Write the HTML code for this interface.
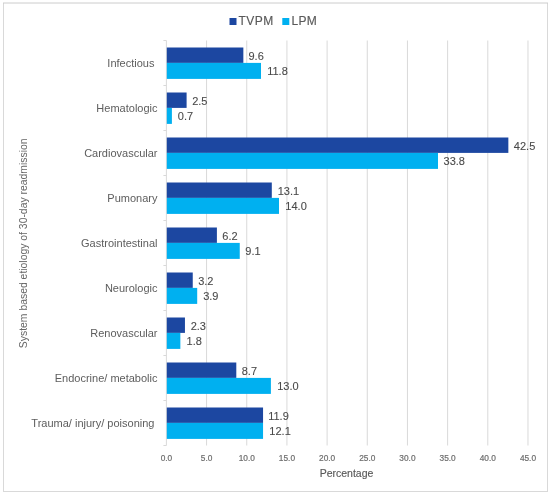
<!DOCTYPE html><html><head><meta charset="utf-8"><style>
html,body{margin:0;padding:0;background:#fff;width:550px;height:495px;overflow:hidden}
svg{display:block;will-change:transform}
text{font-family:"Liberation Sans",sans-serif;fill:#5d5d5d;stroke:#5d5d5d;stroke-width:0px}
.v{fill:#4a4a4a;stroke:#4a4a4a;stroke-width:0.1px}
.t{fill:#595959;stroke:#595959;stroke-width:0.15px}
</style></head><body>
<svg width="550" height="495" viewBox="0 0 550 495">
<rect x="0" y="0" width="550" height="495" fill="#fff"/>
<path d="M3.5 3V491.5M547.5 3V491.5M3 491.5H548" fill="none" stroke="#D9D9D9" stroke-width="1"/>
<path d="M3 3H548" fill="none" stroke="#CCCCCC" stroke-width="1"/>
<line x1="206.57" y1="40.50" x2="206.57" y2="445.50" stroke="#D9D9D9" stroke-width="1"/>
<line x1="246.75" y1="40.50" x2="246.75" y2="445.50" stroke="#D9D9D9" stroke-width="1"/>
<line x1="286.93" y1="40.50" x2="286.93" y2="445.50" stroke="#D9D9D9" stroke-width="1"/>
<line x1="327.10" y1="40.50" x2="327.10" y2="445.50" stroke="#D9D9D9" stroke-width="1"/>
<line x1="367.27" y1="40.50" x2="367.27" y2="445.50" stroke="#D9D9D9" stroke-width="1"/>
<line x1="407.45" y1="40.50" x2="407.45" y2="445.50" stroke="#D9D9D9" stroke-width="1"/>
<line x1="447.62" y1="40.50" x2="447.62" y2="445.50" stroke="#D9D9D9" stroke-width="1"/>
<line x1="487.80" y1="40.50" x2="487.80" y2="445.50" stroke="#D9D9D9" stroke-width="1"/>
<line x1="527.98" y1="40.50" x2="527.98" y2="445.50" stroke="#D9D9D9" stroke-width="1"/>
<line x1="166.40" y1="40.50" x2="166.40" y2="445.50" stroke="#D9D9D9" stroke-width="1"/>
<line x1="163.40" y1="40.50" x2="166.40" y2="40.50" stroke="#D9D9D9" stroke-width="1"/>
<line x1="163.40" y1="85.50" x2="166.40" y2="85.50" stroke="#D9D9D9" stroke-width="1"/>
<line x1="163.40" y1="130.50" x2="166.40" y2="130.50" stroke="#D9D9D9" stroke-width="1"/>
<line x1="163.40" y1="175.50" x2="166.40" y2="175.50" stroke="#D9D9D9" stroke-width="1"/>
<line x1="163.40" y1="220.50" x2="166.40" y2="220.50" stroke="#D9D9D9" stroke-width="1"/>
<line x1="163.40" y1="265.50" x2="166.40" y2="265.50" stroke="#D9D9D9" stroke-width="1"/>
<line x1="163.40" y1="310.50" x2="166.40" y2="310.50" stroke="#D9D9D9" stroke-width="1"/>
<line x1="163.40" y1="355.50" x2="166.40" y2="355.50" stroke="#D9D9D9" stroke-width="1"/>
<line x1="163.40" y1="400.50" x2="166.40" y2="400.50" stroke="#D9D9D9" stroke-width="1"/>
<line x1="163.40" y1="445.50" x2="166.40" y2="445.50" stroke="#D9D9D9" stroke-width="1"/>
<rect x="166.80" y="47.50" width="76.55" height="15.40" fill="#1C47A1"/>
<rect x="166.80" y="62.90" width="94.20" height="16.00" fill="#00B0F0"/>
<text class="v" x="248.48" y="59.90" font-size="11">9.6</text>
<text class="v" x="267.16" y="75.05" font-size="11">11.8</text>
<text x="157.5" y="67.10" font-size="11" text-anchor="end">Infectious&#160;</text>
<rect x="166.80" y="92.50" width="19.80" height="15.40" fill="#1C47A1"/>
<rect x="166.80" y="107.90" width="5.10" height="16.00" fill="#00B0F0"/>
<text class="v" x="192.15" y="104.90" font-size="11">2.5</text>
<text class="v" x="177.77" y="120.05" font-size="11">0.7</text>
<text x="157.5" y="112.10" font-size="11" text-anchor="end">Hematologic</text>
<rect x="166.80" y="137.50" width="341.55" height="15.40" fill="#1C47A1"/>
<rect x="166.80" y="152.90" width="271.20" height="16.00" fill="#00B0F0"/>
<text class="v" x="513.85" y="149.90" font-size="11">42.5</text>
<text class="v" x="443.58" y="165.05" font-size="11">33.8</text>
<text x="157.5" y="157.10" font-size="11" text-anchor="end">Cardiovascular</text>
<rect x="166.80" y="182.50" width="105.00" height="15.40" fill="#1C47A1"/>
<rect x="166.80" y="197.90" width="112.20" height="16.00" fill="#00B0F0"/>
<text class="v" x="277.66" y="194.90" font-size="11">13.1</text>
<text class="v" x="285.36" y="210.05" font-size="11">14.0</text>
<text x="157.5" y="202.10" font-size="11" text-anchor="end">Pumonary</text>
<rect x="166.80" y="227.50" width="50.10" height="15.40" fill="#1C47A1"/>
<rect x="166.80" y="242.90" width="72.95" height="16.00" fill="#00B0F0"/>
<text class="v" x="222.34" y="239.90" font-size="11">6.2</text>
<text class="v" x="245.28" y="255.05" font-size="11">9.1</text>
<text x="157.5" y="247.10" font-size="11" text-anchor="end">Gastrointestinal</text>
<rect x="166.80" y="272.50" width="25.95" height="15.40" fill="#1C47A1"/>
<rect x="166.80" y="287.90" width="30.40" height="16.00" fill="#00B0F0"/>
<text class="v" x="198.18" y="284.90" font-size="11">3.2</text>
<text class="v" x="203.18" y="300.05" font-size="11">3.9</text>
<text x="157.5" y="292.10" font-size="11" text-anchor="end">Neurologic</text>
<rect x="166.80" y="317.50" width="18.15" height="15.40" fill="#1C47A1"/>
<rect x="166.80" y="332.90" width="13.55" height="16.00" fill="#00B0F0"/>
<text class="v" x="190.65" y="329.90" font-size="11">2.3</text>
<text class="v" x="186.56" y="345.05" font-size="11">1.8</text>
<text x="157.5" y="337.10" font-size="11" text-anchor="end">Renovascular</text>
<rect x="166.80" y="362.50" width="69.50" height="15.40" fill="#1C47A1"/>
<rect x="166.80" y="377.90" width="104.10" height="16.00" fill="#00B0F0"/>
<text class="v" x="241.72" y="374.90" font-size="11">8.7</text>
<text class="v" x="277.26" y="390.05" font-size="11">13.0</text>
<text x="157.5" y="382.10" font-size="11" text-anchor="end">Endocrine/ metabolic</text>
<rect x="166.80" y="407.50" width="96.25" height="15.40" fill="#1C47A1"/>
<rect x="166.80" y="422.90" width="96.25" height="16.00" fill="#00B0F0"/>
<text class="v" x="268.16" y="419.90" font-size="11">11.9</text>
<text class="v" x="269.36" y="435.05" font-size="11">12.1</text>
<text x="157.5" y="427.10" font-size="11" text-anchor="end">Trauma/ injury/ poisoning&#160;</text>
<text x="166.40" y="460.6" font-size="8.3" text-anchor="middle" style="stroke-width:0.2px;fill:#6e6e6e;stroke:#6e6e6e">0.0</text>
<text x="206.57" y="460.6" font-size="8.3" text-anchor="middle" style="stroke-width:0.2px;fill:#6e6e6e;stroke:#6e6e6e">5.0</text>
<text x="246.75" y="460.6" font-size="8.3" text-anchor="middle" style="stroke-width:0.2px;fill:#6e6e6e;stroke:#6e6e6e">10.0</text>
<text x="286.93" y="460.6" font-size="8.3" text-anchor="middle" style="stroke-width:0.2px;fill:#6e6e6e;stroke:#6e6e6e">15.0</text>
<text x="327.10" y="460.6" font-size="8.3" text-anchor="middle" style="stroke-width:0.2px;fill:#6e6e6e;stroke:#6e6e6e">20.0</text>
<text x="367.27" y="460.6" font-size="8.3" text-anchor="middle" style="stroke-width:0.2px;fill:#6e6e6e;stroke:#6e6e6e">25.0</text>
<text x="407.45" y="460.6" font-size="8.3" text-anchor="middle" style="stroke-width:0.2px;fill:#6e6e6e;stroke:#6e6e6e">30.0</text>
<text x="447.62" y="460.6" font-size="8.3" text-anchor="middle" style="stroke-width:0.2px;fill:#6e6e6e;stroke:#6e6e6e">35.0</text>
<text x="487.80" y="460.6" font-size="8.3" text-anchor="middle" style="stroke-width:0.2px;fill:#6e6e6e;stroke:#6e6e6e">40.0</text>
<text x="527.98" y="460.6" font-size="8.3" text-anchor="middle" style="stroke-width:0.2px;fill:#6e6e6e;stroke:#6e6e6e">45.0</text>
<text class="t" x="346.5" y="476.5" font-size="10.5" text-anchor="middle">Percentage</text>
<text style="fill:#666;stroke-width:0" transform="translate(27.2,243.3) rotate(-90)" font-size="10.4" text-anchor="middle">System based etiology of 30-day readmission</text>
<rect x="229.5" y="18" width="7" height="7" fill="#1C47A1"/>
<text class="t" x="238.5" y="24.7" font-size="12" letter-spacing="0.45">TVPM</text>
<rect x="282.3" y="18" width="7" height="7" fill="#00B0F0"/>
<text class="t" x="291.5" y="24.7" font-size="12" letter-spacing="0.25">LPM</text>
</svg></body></html>
